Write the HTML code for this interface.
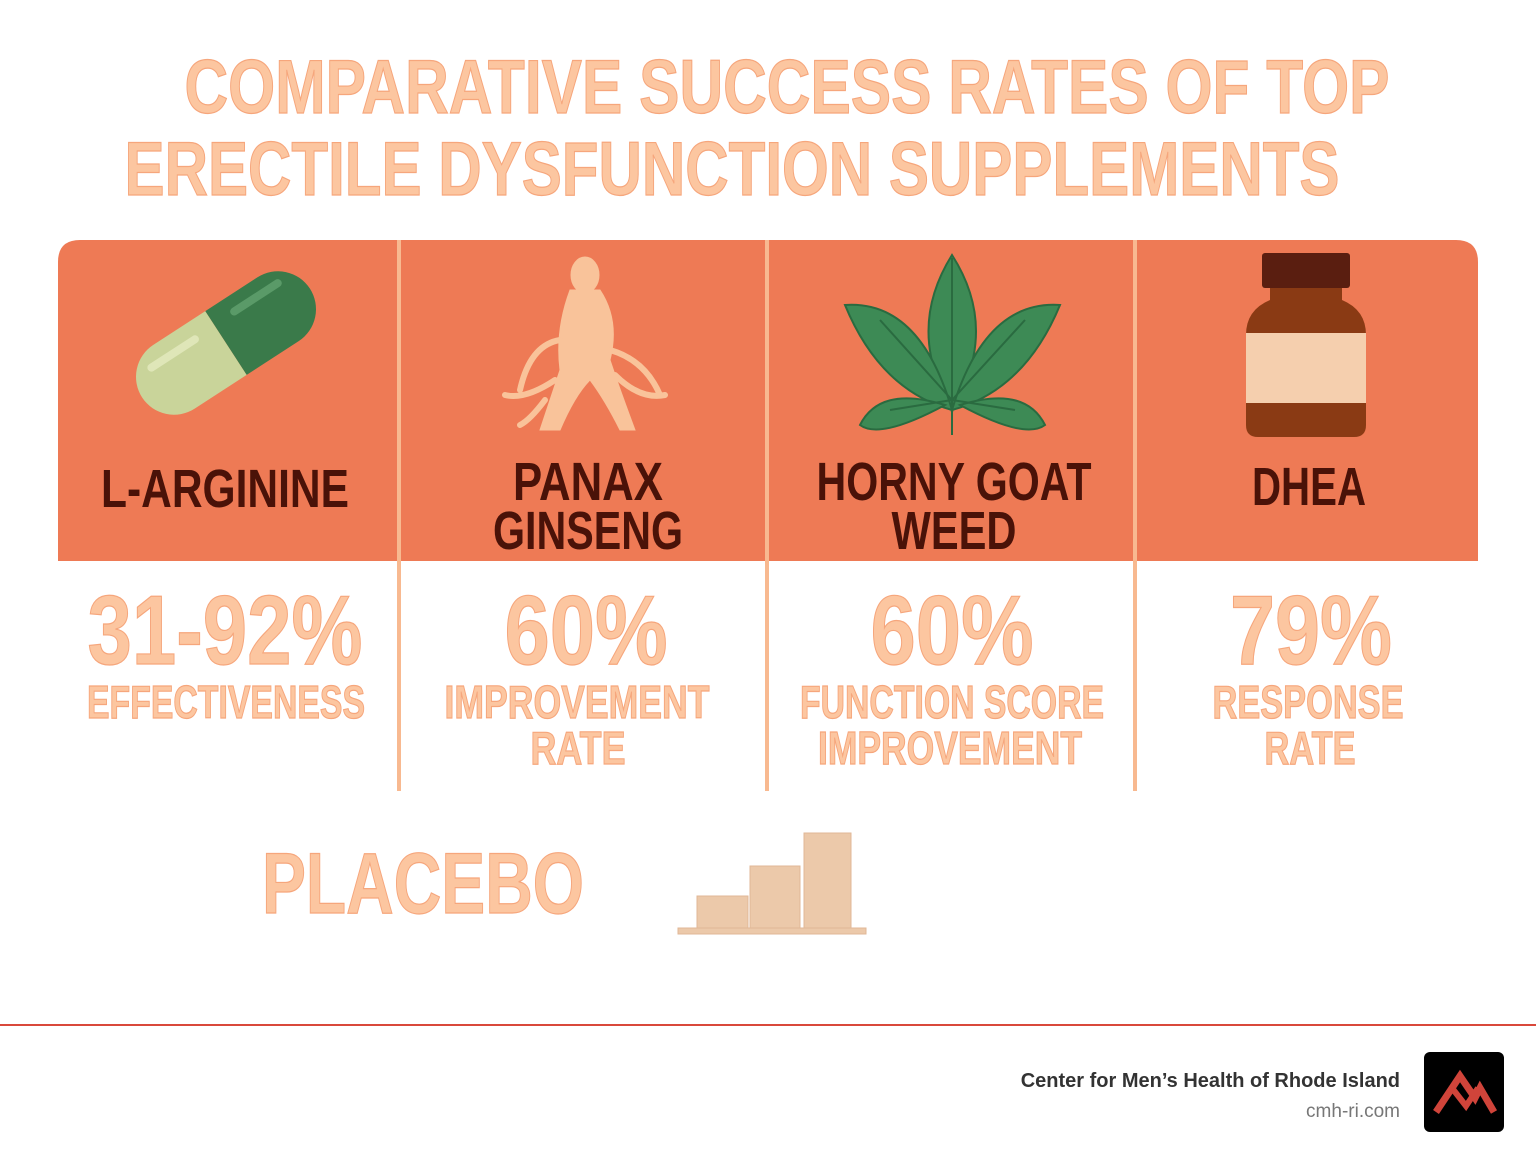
<!DOCTYPE html>
<html><head><meta charset="utf-8"><style>
html,body{margin:0;padding:0;background:#fff;width:1536px;height:1154px;overflow:hidden}
svg{display:block}
.t{font-family:"Liberation Sans Narrow","Liberation Sans",sans-serif;font-weight:bold}
</style></head><body>
<svg width="1536" height="1154" viewBox="0 0 1536 1154">
<g class="t" fill="#fcc6a0" stroke="#f6a67c" stroke-width="1.2" text-anchor="middle">
<text x="787" y="113" font-size="76" textLength="1205" lengthAdjust="spacingAndGlyphs">COMPARATIVE SUCCESS RATES OF TOP</text>
<text x="732" y="195" font-size="76" textLength="1215" lengthAdjust="spacingAndGlyphs">ERECTILE DYSFUNCTION SUPPLEMENTS</text>
</g>
<path d="M58 262 Q58 240 80 240 L1456 240 Q1478 240 1478 262 L1478 561 L58 561 Z" fill="#ee7a55"/>
<g fill="#f8b990"><rect x="397" y="240" width="4" height="551"/><rect x="765" y="240" width="4" height="551"/><rect x="1133" y="240" width="4" height="551"/></g>
<!-- pill -->
<g transform="translate(226,343) rotate(-33)">
<path d="M0 -38 L-62 -38 A38 38 0 0 0 -62 38 L0 38 Z" fill="#c9d49a"/>
<path d="M0 -38 L62 -38 A38 38 0 0 1 62 38 L0 38 Z" fill="#3a7a4a"/>
<rect x="-80" y="-24" width="60" height="8" rx="4" fill="#dfe6b8"/>
<rect x="20" y="-26" width="60" height="8" rx="4" fill="#5a9a68"/>
</g>
<!-- ginseng -->
<g fill="#f9c39a" stroke="#f9c39a" stroke-linecap="round" fill-opacity="1">
<ellipse cx="585" cy="275" rx="14" ry="18"/>
<path d="M570 290 Q555 330 560 370 Q550 400 540 430 L560 430 Q575 395 590 380 Q605 400 620 430 L635 430 Q620 390 610 360 Q620 320 600 290 Z"/>
<path d="M560 340 Q530 345 520 390 M555 380 Q525 400 505 395 M610 350 Q645 360 660 395 M615 375 Q640 400 665 395 M545 400 Q530 420 520 425" fill="none" stroke-width="6"/>
</g>
<!-- leaf -->
<g fill="#3d8a55" stroke="#2a6b40" stroke-width="2">
<path d="M952 410 Q905 330 952 255 Q1000 330 952 410Z"/>
<path d="M952 410 Q880 390 845 305 Q920 300 952 410Z"/>
<path d="M952 410 Q1025 390 1060 305 Q985 300 952 410Z"/>
<path d="M945 405 Q880 440 860 425 Q880 385 945 405Z"/>
<path d="M960 405 Q1025 440 1045 425 Q1025 385 960 405Z"/>
<path d="M952 258 V435 M952 400 L880 320 M952 400 L1025 320 M952 400 L890 410 M952 400 L1015 410" fill="none"/>
</g>
<!-- bottle -->
<rect x="1262" y="253" width="88" height="35" rx="3" fill="#5a1e10"/>
<path d="M1270 288 L1342 288 L1342 300 Q1366 310 1366 335 L1366 425 Q1366 437 1354 437 L1258 437 Q1246 437 1246 425 L1246 335 Q1246 310 1270 300Z" fill="#8a3a14"/>
<rect x="1246" y="333" width="120" height="70" fill="#f5cfae"/>
<g class="t" fill="#4a1208" text-anchor="middle" font-size="54">
<text x="225" y="507" textLength="248" lengthAdjust="spacingAndGlyphs">L-ARGININE</text>
<text x="588" y="500" textLength="150" lengthAdjust="spacingAndGlyphs">PANAX</text>
<text x="588" y="549" textLength="190" lengthAdjust="spacingAndGlyphs">GINSENG</text>
<text x="954" y="500" textLength="275" lengthAdjust="spacingAndGlyphs">HORNY GOAT</text>
<text x="954" y="549" textLength="125" lengthAdjust="spacingAndGlyphs">WEED</text>
<text x="1309" y="505" textLength="114" lengthAdjust="spacingAndGlyphs">DHEA</text>
</g>
<g class="t" fill="#fcc6a0" stroke="#f6a67c" stroke-width="1.2" text-anchor="middle">
<g font-size="98">
<text x="225" y="664" textLength="275" lengthAdjust="spacingAndGlyphs">31-92%</text>
<text x="586" y="664" textLength="163" lengthAdjust="spacingAndGlyphs">60%</text>
<text x="952" y="664" textLength="163" lengthAdjust="spacingAndGlyphs">60%</text>
<text x="1311" y="664" textLength="162" lengthAdjust="spacingAndGlyphs">79%</text>
</g>
<g font-size="46">
<text x="226" y="718" textLength="278" lengthAdjust="spacingAndGlyphs">EFFECTIVENESS</text>
<text x="577" y="718" textLength="265" lengthAdjust="spacingAndGlyphs">IMPROVEMENT</text>
<text x="578" y="764" textLength="95" lengthAdjust="spacingAndGlyphs">RATE</text>
<text x="952" y="718" textLength="304" lengthAdjust="spacingAndGlyphs">FUNCTION SCORE</text>
<text x="950" y="764" textLength="264" lengthAdjust="spacingAndGlyphs">IMPROVEMENT</text>
<text x="1308" y="718" textLength="191" lengthAdjust="spacingAndGlyphs">RESPONSE</text>
<text x="1310" y="764" textLength="91" lengthAdjust="spacingAndGlyphs">RATE</text>
</g>
<text x="423" y="913" font-size="86" textLength="322" lengthAdjust="spacingAndGlyphs">PLACEBO</text>
</g>
<g fill="#ecc9aa" stroke="#e0b797" stroke-width="1">
<rect x="697" y="896" width="51" height="34"/>
<rect x="750" y="866" width="50" height="64"/>
<rect x="804" y="833" width="47" height="97"/>
<rect x="678" y="928" width="188" height="6"/>
</g>
<rect x="0" y="1024" width="1536" height="2" fill="#d9483b"/>
<g font-family="Liberation Sans,sans-serif" text-anchor="end">
<text x="1400" y="1087" font-size="20" font-weight="bold" fill="#333">Center for Men’s Health of Rhode Island</text>
<text x="1400" y="1117" font-size="19" fill="#777">cmh-ri.com</text>
</g>
<rect x="1424" y="1052" width="80" height="80" rx="6" fill="#000"/>
<path d="M1436 1112 L1460 1076 L1475 1098 L1480 1088 L1494 1112" fill="none" stroke="#d0443a" stroke-width="7" stroke-linejoin="miter"/>
<path d="M1452 1088 L1466 1106 L1478 1088" fill="none" stroke="#d0443a" stroke-width="6"/>
</svg>
</body></html>
